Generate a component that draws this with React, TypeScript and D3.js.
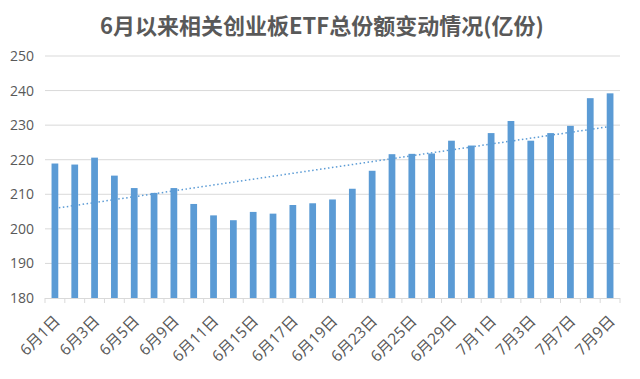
import React, { useEffect, useRef } from "react";
import * as d3 from "d3";

const categories = [
  "6月1日", "6月2日", "6月3日", "6月4日", "6月5日", "6月8日", "6月9日", "6月10日",
  "6月11日", "6月12日", "6月15日", "6月16日", "6月17日", "6月18日", "6月19日", "6月22日",
  "6月23日", "6月24日", "6月25日", "6月26日", "6月29日", "6月30日", "7月1日", "7月2日",
  "7月3日", "7月6日", "7月7日", "7月8日", "7月9日",
];
const values = [
  218.9, 218.6, 220.6, 215.4, 211.8, 210.4, 211.8, 207.2,
  203.9, 202.5, 204.9, 204.4, 206.9, 207.4, 208.5, 211.6,
  216.8, 221.6, 221.7, 221.8, 225.5, 224.1, 227.7, 231.2,
  225.5, 227.7, 229.8, 237.8, 239.2,
];
const yTicks = [180, 190, 200, 210, 220, 230, 240, 250];
const title = "6月以来相关创业板ETF总份额变动情况(亿份)";

const W = 640, H = 379;
const M = { left: 45, right: 20, top: 56, bottom: 81 };

export default function App() {
  const ref = useRef<SVGSVGElement>(null);
  useEffect(() => {
    const svg = d3.select(ref.current);
    svg.selectAll("*").remove();
    const x = d3.scaleBand<string>().domain(categories).range([M.left, W - M.right]).paddingInner(0.66).paddingOuter(0.33);
    const y = d3.scaleLinear().domain([180, 250]).range([H - M.bottom, M.top]);
    const font = "'Open Sans', 'Noto Sans CJK SC', sans-serif";
    const txt = "#595959";

    svg.append("text").attr("x", 322).attr("y", 34).attr("text-anchor", "middle")
      .attr("font-family", "'Noto Sans CJK SC', sans-serif").attr("font-weight", "bold").attr("font-size", 22).attr("fill", txt).text(title);

    // gridlines
    svg.append("g").selectAll("line").data(yTicks.slice(1)).join("line")
      .attr("x1", M.left).attr("x2", W - M.right)
      .attr("y1", d => y(d)).attr("y2", d => y(d))
      .attr("stroke", "#d9d9d9").attr("stroke-width", 1);

    svg.append("g").selectAll("text").data(yTicks).join("text")
      .attr("x", 34).attr("y", d => y(d) + 5).attr("text-anchor", "end")
      .attr("font-family", font).attr("font-size", 14).attr("fill", txt).text(d => d);

    // bars
    svg.append("g").selectAll("rect").data(values).join("rect")
      .attr("x", (_, i) => x(categories[i])!).attr("width", x.bandwidth())
      .attr("y", d => y(d)).attr("height", d => y(180) - y(d)).attr("fill", "#5b9bd5");

    // x axis
    const y0 = y(180);
    svg.append("line").attr("x1", M.left).attr("x2", W - M.right).attr("y1", y0 + 0.5).attr("y2", y0 + 0.5)
      .attr("stroke", "#d9d9d9");
    const step = x.step();
    const bounds = d3.range(categories.length + 1).map(i => M.left + i * step);
    svg.append("g").selectAll("line").data(bounds).join("line")
      .attr("x1", d => d).attr("x2", d => d).attr("y1", y0).attr("y2", y0 + 5)
      .attr("stroke", "#d9d9d9");

    svg.append("g").selectAll("text").data(categories.filter((_, i) => i % 2 === 0)).join("text")
      .attr("transform", d => `translate(${x(d)! + x.bandwidth() / 2 + 6},${y0 + 24}) rotate(-45)`)
      .attr("text-anchor", "end").attr("font-family", font).attr("font-size", 15.5).attr("fill", txt)
      .text(d => d);

    // trendline (linear regression)
    const n = values.length;
    const xs = d3.range(n);
    const mx = d3.mean(xs)!, my = d3.mean(values)!;
    const slope = d3.sum(xs, i => (i - mx) * (values[i] - my)) / d3.sum(xs, i => (i - mx) ** 2);
    const icpt = my - slope * mx;
    const cx = (i: number) => x(categories[i])! + x.bandwidth() / 2;
    svg.append("line")
      .attr("x1", cx(0)).attr("y1", y(icpt))
      .attr("x2", cx(n - 1)).attr("y2", y(icpt + slope * (n - 1)))
      .attr("stroke", "#5b9bd5").attr("stroke-width", 1.5).attr("stroke-dasharray", "1.5 2.5");
  }, []);
  return <svg ref={ref} width={W} height={H} style={{ display: "block", position: "absolute", left: 0, top: 0 }} />;
}
